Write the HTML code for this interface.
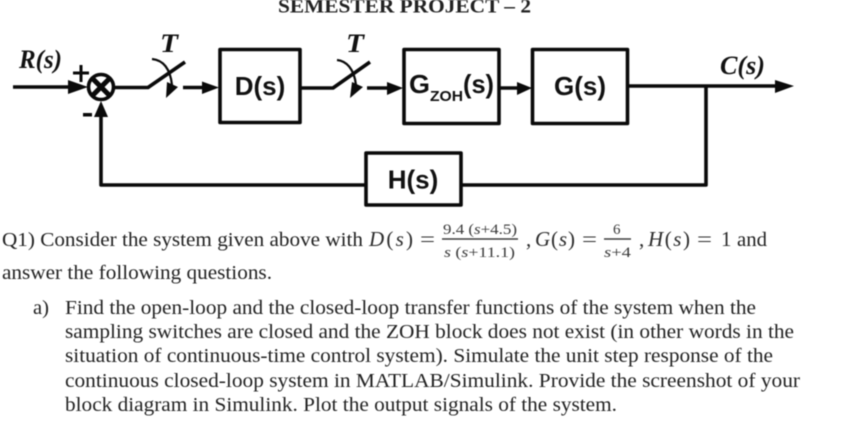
<!DOCTYPE html>
<html><head><meta charset="utf-8"><style>
html,body{margin:0;padding:0;background:#fff}
svg{display:block;filter:blur(.45px)}
.t{font-family:"Liberation Serif",serif;font-size:20px;fill:#222}
.m{font-family:"Liberation Serif",serif;font-size:21px;fill:#2c2c2c}
.i{font-style:italic}
.f{font-family:"Liberation Serif",serif;font-size:15px;fill:#3a3a3a}
.b{font-family:"Liberation Sans",sans-serif;font-weight:bold;font-size:26px;fill:#111;text-anchor:middle}
.l{font-family:"Liberation Serif",serif;font-weight:bold;font-style:italic;font-size:26px;fill:#111}
</style></head><body>
<svg width="847" height="424" viewBox="0 0 847 424" xmlns="http://www.w3.org/2000/svg">
<rect width="847" height="424" fill="#fff"/>
<text x="278" y="12.500" textLength="253" lengthAdjust="spacingAndGlyphs" style="font-family:'Liberation Serif',serif;font-weight:bold;font-size:20px;fill:#222">SEMESTER PROJECT – 2</text>
<g fill="none" stroke="#0a0a0a" stroke-width="3.6" stroke-linejoin="round">
<rect x="220" y="49.500" width="80" height="73"/>
<rect x="404" y="49.500" width="95" height="74"/>
<rect x="532.500" y="49.500" width="95" height="74"/>
<rect x="366" y="153" width="95" height="52"/>
<path d="M13 87H72"/>
<path d="M115 87.500H148L185 62"/>
<path d="M183 87.500H205"/>
<path d="M300 88H333L370 62"/>
<path d="M367 88H390"/>
<path d="M499 88H520"/>
<path d="M628 86H778"/>
<path d="M706 86V185H461"/>
<path d="M366 185H101V115"/>
<circle cx="101" cy="87" r="12.500"/>
</g>
<path d="M92 78L110 96M110 78L92 96" fill="none" stroke="#0a0a0a" stroke-width="5"/>
<g fill="none" stroke="#0a0a0a" stroke-width="2.2">
<path d="M152 59C162 60 170 67 172 85"/>
<path d="M337 60C346 61 354 68 356 85"/>
</g>
<g fill="#0a0a0a">
<path d="M68 80L88 87L68 94Z"/>
<path d="M101 101L108 117H94Z"/>
<path d="M202 81.500L219 87.500L202 94Z"/>
<path d="M387 82L403 88L387 95Z"/>
<path d="M517 82L532 88L517 95Z"/>
<path d="M775 80L794 86L775 93Z"/>
<path d="M167 82L178 87L166 98Z"/>
<path d="M352 82L363 87L350 98Z"/>
<rect x="73" y="71.500" width="16" height="3"/>
<rect x="79.500" y="65" width="3" height="17"/>
<rect x="83" y="113" width="9" height="3.500"/>
</g>
<text class="l" x="19" y="68" textLength="43" lengthAdjust="spacingAndGlyphs">R(s)</text>
<text class="l" x="160" y="52" textLength="18" lengthAdjust="spacingAndGlyphs">T</text>
<text class="l" x="346" y="52" textLength="18" lengthAdjust="spacingAndGlyphs">T</text>
<text class="l" x="720" y="74" textLength="45" lengthAdjust="spacingAndGlyphs">C(s)</text>
<text class="b" x="260" y="95">D(s)</text>
<text class="b" x="580" y="95">G(s)</text>
<text class="b" x="413" y="188.500">H(s)</text>
<text class="b" x="409" y="93" style="text-anchor:start" textLength="21" lengthAdjust="spacingAndGlyphs">G</text>
<text class="b" x="430" y="101" style="text-anchor:start;font-size:15px" textLength="33" lengthAdjust="spacingAndGlyphs">ZOH</text>
<text class="b" x="463" y="93" style="text-anchor:start" textLength="31" lengthAdjust="spacingAndGlyphs">(s)</text>

<text class="t" x="2" y="246" textLength="361" lengthAdjust="spacingAndGlyphs">Q1) Consider the system given above with</text>
<text class="m" x="369" y="246" textLength="44" lengthAdjust="spacing"><tspan class="i">D</tspan>(<tspan class="i">s</tspan>)</text>
<text class="m" x="420" y="246" textLength="15" lengthAdjust="spacingAndGlyphs">=</text>
<text class="f" x="443" y="234" textLength="74" lengthAdjust="spacingAndGlyphs">9.4 (<tspan class="i">s</tspan>+4.5)</text>
<rect x="442" y="238.300" width="76" height="1.400" fill="#333"/>
<text class="f" x="444" y="257" textLength="71" lengthAdjust="spacingAndGlyphs"><tspan class="i">s</tspan> (<tspan class="i">s</tspan>+11.1)</text>
<text class="m" x="526" y="246">,</text>
<text class="m" x="535" y="246" textLength="40" lengthAdjust="spacing"><tspan class="i">G</tspan>(<tspan class="i">s</tspan>)</text>
<text class="m" x="582" y="246" textLength="15" lengthAdjust="spacingAndGlyphs">=</text>
<text class="f" x="613" y="234">6</text>
<rect x="604" y="238.300" width="27" height="1.400" fill="#333"/>
<text class="f" x="604" y="257" textLength="27" lengthAdjust="spacingAndGlyphs"><tspan class="i">s</tspan>+4</text>
<text class="m" x="639" y="246">,</text>
<text class="m" x="648" y="246" textLength="42" lengthAdjust="spacing"><tspan class="i">H</tspan>(<tspan class="i">s</tspan>)</text>
<text class="m" x="697" y="246" textLength="15" lengthAdjust="spacingAndGlyphs">=</text>
<text class="m" x="721" y="246">1</text>
<text class="t" x="737" y="246" textLength="30" lengthAdjust="spacingAndGlyphs">and</text>
<text class="t" x="2" y="279" textLength="270" lengthAdjust="spacingAndGlyphs">answer the following questions.</text>

<text class="t" x="33" y="314" textLength="16" lengthAdjust="spacingAndGlyphs">a)</text>
<text class="t" x="65" y="314" textLength="691" lengthAdjust="spacingAndGlyphs">Find the open-loop and the closed-loop transfer functions of the system when the</text>
<text class="t" x="65" y="338" textLength="729" lengthAdjust="spacingAndGlyphs">sampling switches are closed and the ZOH block does not exist (in other words in the</text>
<text class="t" x="65" y="362" textLength="708" lengthAdjust="spacingAndGlyphs">situation of continuous-time control system). Simulate the unit step response of the</text>
<text class="t" x="65" y="387" textLength="735" lengthAdjust="spacingAndGlyphs">continuous closed-loop system in MATLAB/Simulink. Provide the screenshot of your</text>
<text class="t" x="65" y="411" textLength="552" lengthAdjust="spacingAndGlyphs">block diagram in Simulink. Plot the output signals of the system.</text>
</svg>
</body></html>
